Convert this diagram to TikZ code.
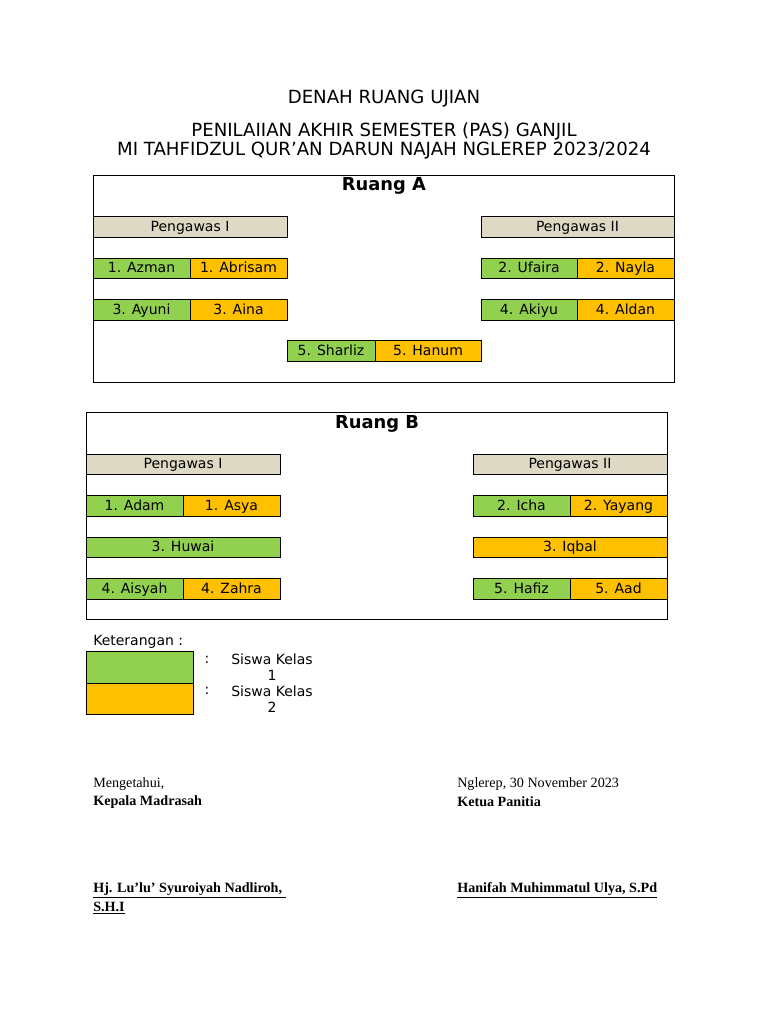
\documentclass[tikz,border=0pt]{standalone}
\usepackage{fontspec}
\setmainfont{DejaVu Sans}
\newfontfamily\sigfont{Liberation Serif}
\definecolor{kgreen}{HTML}{92D050}
\definecolor{korange}{HTML}{FFC000}
\definecolor{kgray}{HTML}{DDD9C4}
\newcommand{\cellbox}[7]{\node[cell,fill=#6,minimum width={(#4-#2)*0.75pt},minimum height={(#5-#3)*0.75pt}] (#1) at ({(#2+#4)/2},{(#3+#5)/2}) {#7};}
\begin{document}
\begin{tikzpicture}[x=0.75pt,y=-0.75pt,
  cell/.style={draw=black,line width=0.6pt,inner sep=0pt,text height=9.4pt,text depth=2.2pt,font=\fontsize{10.5}{12}\selectfont},
  room/.style={draw=black,line width=0.6pt,inner sep=0pt,fill=none},
  title/.style={font=\fontsize{13.6}{16}\selectfont,inner sep=0pt},
  rtitle/.style={font=\fontsize{13.4}{16}\selectfont\bfseries,inner sep=0pt},
  lbl/.style={font=\fontsize{10.5}{12}\selectfont,inner sep=0pt},
  sig/.style={font=\sigfont\fontsize{10.6}{12}\selectfont,inner sep=0pt,anchor=west}]
\useasboundingbox (0,0) rectangle (768,1024);
% titles
\node[title] (t1) at (384,98.5) {DENAH RUANG UJIAN};
\node[title] (t2) at (384,131.5) {PENILAIIAN AKHIR SEMESTER (PAS) GANJIL};
\node[title] (t3) at (384,150.5) {MI TAHFIDZUL QUR’AN DARUN NAJAH NGLEREP 2023/2024};
% Ruang A
\node[room,minimum width={581*0.75pt},minimum height={207*0.75pt}] (roomA) at ({(93+674)/2},{(175+382)/2}) {};
\node[rtitle] (rA) at (384,185.5) {Ruang A};
\cellbox{pa1}{93}{216}{287}{237}{kgray}{Pengawas I}
\cellbox{pa2}{481}{216}{674}{237}{kgray}{Pengawas II}
\cellbox{a1}{93}{258}{190}{278}{kgreen}{1. Azman}
\cellbox{a2}{190}{258}{287}{278}{korange}{1. Abrisam}
\cellbox{a3}{481}{258}{577}{278}{kgreen}{2. Ufaira}
\cellbox{a4}{577}{258}{674}{278}{korange}{2. Nayla}
\cellbox{a5}{93}{299}{190}{320}{kgreen}{3. Ayuni}
\cellbox{a6}{190}{299}{287}{320}{korange}{3. Aina}
\cellbox{a7}{481}{299}{577}{320}{kgreen}{4. Akiyu}
\cellbox{a8}{577}{299}{674}{320}{korange}{4. Aldan}
\cellbox{a9}{287}{340}{375}{361}{kgreen}{5. Sharliz}
\cellbox{a10}{375}{340}{481}{361}{korange}{5. Hanum}
% Ruang B
\node[room,minimum width={581*0.75pt},minimum height={207*0.75pt}] (roomB) at ({(86+667)/2},{(412+619)/2}) {};
\node[rtitle] (rB) at (377,423.5) {Ruang B};
\cellbox{pb1}{86}{454}{280}{474}{kgray}{Pengawas I}
\cellbox{pb2}{473}{454}{667}{474}{kgray}{Pengawas II}
\cellbox{b1}{86}{495}{183}{516}{kgreen}{1. Adam}
\cellbox{b2}{183}{495}{280}{516}{korange}{1. Asya}
\cellbox{b3}{473}{495}{570}{516}{kgreen}{2. Icha}
\cellbox{b4}{570}{495}{667}{516}{korange}{2. Yayang}
\cellbox{b5}{86}{537}{280}{557}{kgreen}{3. Huwai}
\cellbox{b6}{473}{537}{667}{557}{korange}{3. Iqbal}
\cellbox{b7}{86}{578}{183}{599}{kgreen}{4. Aisyah}
\cellbox{b8}{183}{578}{280}{599}{korange}{4. Zahra}
\cellbox{b9}{473}{578}{570}{599}{kgreen}{5. Hafiz}
\cellbox{b10}{570}{578}{667}{599}{korange}{5. Aad}
% legend
\node[lbl,anchor=west] (ket) at (93,642) {Keterangan :};
\cellbox{lg}{86}{651}{193}{683}{kgreen}{}
\cellbox{lo}{86}{683}{193}{714}{korange}{}
\node[lbl] (c1) at (207,660) {:};
\node[lbl] (c2) at (207,691) {:};
\node[lbl,align=center] (s1) at (272,667) {Siswa Kelas\\1};
\node[lbl,align=center] (s2) at (272,699) {Siswa Kelas\\2};
% signatures
\node[sig] (m1) at (93,784) {Mengetahui,};
\node[sig] (m2) at (93,802) {\bfseries Kepala Madrasah};
\node[sig] (n1) at (457,784) {Nglerep, 30 November 2023};
\node[sig] (n2) at (457,802) {\bfseries Ketua Panitia};
\node[sig] (h1) at (93,890) {\bfseries\underline{Hj. Lu’lu’ Syuroiyah Nadliroh,\ }};
\node[sig] (h2) at (93,908) {\bfseries\underline{S.H.I}};
\node[sig] (k1) at (457,890) {\bfseries\underline{Hanifah Muhimmatul Ulya, S.Pd}};
\end{tikzpicture}
\end{document}
